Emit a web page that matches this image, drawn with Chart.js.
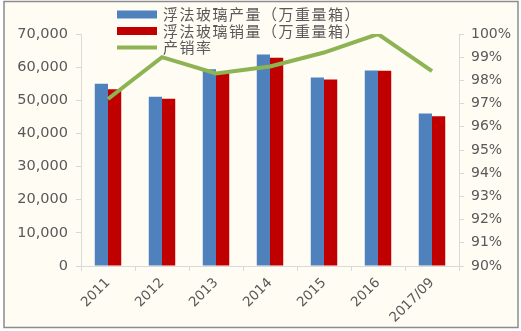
<!DOCTYPE html>
<html>
<head>
<meta charset="utf-8">
<script src="https://cdn.jsdelivr.net/npm/chart.js@4/dist/chart.umd.min.js"></script>
<style>
html,body{margin:0;padding:0;background:#ffffff;}
#wrap{width:521px;height:331px;position:relative;}
</style>
</head>
<body>
<div id="wrap"><canvas id="c" width="521" height="331"></canvas></div>
<script>
const categories = ['2011','2012','2013','2014','2015','2016','2017/09'];
const production = [55000, 51100, 59400, 63800, 56900, 59000, 46000];
const sales = [53300, 50500, 58300, 62800, 56300, 58900, 45200];
const salesRate = [97.2, 99.0, 98.3, 98.6, 99.2, 100.0, 98.4];
const seriesNames = ['浮法玻璃产量（万重量箱）', '浮法玻璃销量（万重量箱）', '产销率'];

const axisColor = '#D9D9D9';
const textColor = '#595959';

const bgPlugin = {
  id: 'bg',
  beforeDraw(chart) {
    const ctx = chart.ctx;
    ctx.save();
    ctx.fillStyle = '#ffffff';
    ctx.fillRect(0, 0, chart.width, chart.height);
    ctx.fillStyle = '#FFFCF4';
    ctx.fillRect(4, 1.5, 514, 326);
    ctx.strokeStyle = '#8C8C8C';
    ctx.lineWidth = 1.5;
    ctx.strokeRect(4, 1.5, 514, 326);
    ctx.restore();
  }
};

const legendPlugin = {
  id: 'customLegend',
  afterDraw(chart) {
    const ctx = chart.ctx;
    const ds = chart.data.datasets;
    const x0 = 117, boxW = 40, textX = 163;
    const rows = [14.5, 31, 47.5];
    ctx.save();
    ctx.font = '15px "Noto Sans CJK SC"';
    if ('letterSpacing' in ctx) ctx.letterSpacing = '1.5px';
    ctx.textBaseline = 'middle';
    ctx.textAlign = 'left';
    ds.forEach((d, i) => {
      const y = rows[i];
      if (d.type === 'line') {
        ctx.strokeStyle = d.borderColor;
        ctx.lineWidth = 4;
        ctx.beginPath();
        ctx.moveTo(x0, y);
        ctx.lineTo(x0 + boxW, y);
        ctx.stroke();
      } else {
        ctx.fillStyle = d.backgroundColor;
        ctx.fillRect(x0, y - 4, boxW, 8);
      }
      ctx.fillStyle = textColor;
      ctx.fillText(d.label, textX, y);
    });
    ctx.restore();
  }
};

new Chart(document.getElementById('c'), {
  data: {
    labels: categories,
    datasets: [
      { type: 'bar', label: seriesNames[0], data: production, backgroundColor: '#4F81BD', yAxisID: 'y', order: 1, categoryPercentage: 0.49, barPercentage: 1.0 },
      { type: 'bar', label: seriesNames[1], data: sales, backgroundColor: '#C00000', yAxisID: 'y', order: 1, categoryPercentage: 0.49, barPercentage: 1.0 },
      { type: 'line', label: seriesNames[2], data: salesRate, borderColor: '#8DB353', backgroundColor: '#8DB353', borderWidth: 4, pointRadius: 0, tension: 0, yAxisID: 'y1', order: 0 }
    ]
  },
  options: {
    responsive: false,
    animation: false,
    devicePixelRatio: 1,
    layout: { padding: { top: 34, left: 0, right: 0, bottom: 0 } },
    plugins: { legend: { display: false }, tooltip: { enabled: false } },
    scales: {
      x: {
        offset: true,
        grid: { offset: true, drawOnChartArea: false, drawTicks: true, tickLength: 5, color: axisColor },
        border: { color: axisColor, width: 1 },
        ticks: { color: textColor, font: { family: 'DejaVu Sans', size: 13.5 }, maxRotation: 45, minRotation: 45, padding: 4 },
        afterFit(s) { s.height = 65; }
      },
      y: {
        position: 'left',
        min: 0, max: 70000,
        ticks: { stepSize: 10000, color: textColor, font: { family: 'DejaVu Sans', size: 14.5 }, padding: 8,
          callback: v => v.toLocaleString('en-US') },
        grid: { drawOnChartArea: false, drawTicks: true, tickLength: 5, color: axisColor },
        border: { color: axisColor, width: 1 },
        afterFit(s) { s.width = 81; }
      },
      y1: {
        position: 'right',
        min: 90, max: 100,
        ticks: { stepSize: 1, color: textColor, font: { family: 'DejaVu Sans', size: 14 }, padding: 7,
          callback: v => v + '%' },
        grid: { drawOnChartArea: false, drawTicks: true, tickLength: 5, color: axisColor },
        border: { color: axisColor, width: 1 },
        afterFit(s) { s.width = 62; }
      }
    }
  },
  plugins: [bgPlugin, legendPlugin]
});
</script>
</body>
</html>
